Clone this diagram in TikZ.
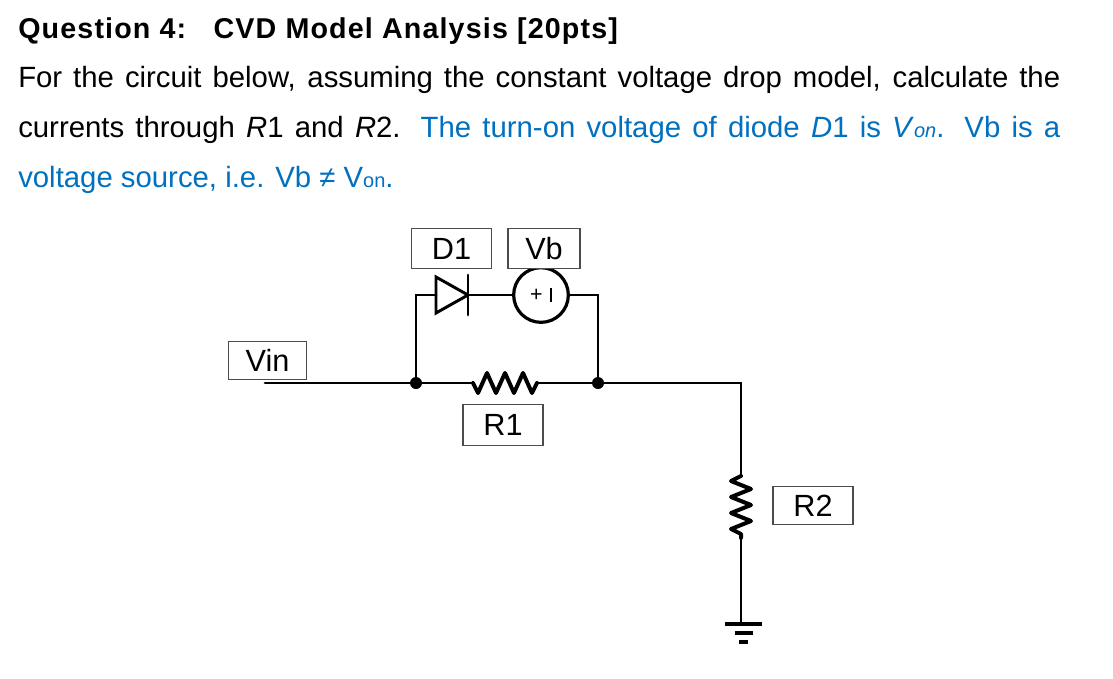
\documentclass[tikz,border=0pt]{standalone}
\usepackage{fontspec}
\setmainfont{Liberation Sans}
\definecolor{qblue}{RGB}{0,112,192}
\begin{document}
\begin{tikzpicture}[x=0.75pt,y=-0.75pt,
  lbl/.style={draw=black!70,line width=0.8pt,fill=white,inner sep=0pt,font=\fontsize{23}{24}\selectfont},
  wire/.style={line width=2.2pt,line cap=round},
  res/.style={line width=3pt,line join=round,line cap=round},
  dot/.style={circle,fill=black,inner sep=0pt,minimum size=9pt}]
\useasboundingbox (0,0) rectangle (1113,678);
\node[anchor=base west,inner sep=0pt,font=\fontsize{21.5}{24}\selectfont\bfseries\addfontfeatures{LetterSpace=4}] (title) at (18,38) {Question 4:\ \ \ CVD Model Analysis [20pts]};
\node[anchor=north west,inner sep=0pt,text width=781.5pt,align=justify,font=\fontsize{22}{37.5}\selectfont] (txt) at (18,66)
{For the circuit below, assuming the constant voltage drop model, calculate the\linebreak
currents through \textit{R}1 and \textit{R}2. \textcolor{qblue}{The turn-on voltage of diode \textit{D}1 is \textit{V}{\fontsize{15}{15}\selectfont\textit{on}}. Vb is a}\linebreak
\textcolor{qblue}{voltage source, i.e. Vb ≠ V{\fontsize{15}{15}\selectfont on}.}};
% nodes
\coordinate (vinS) at (265,383);
\node[dot] (j1) at (416,383) {};
\node[dot] (j2) at (598,383) {};
\coordinate (rc) at (741,383);
\coordinate (tl) at (416,295);
\coordinate (tr) at (598,295);
\coordinate (da) at (436,295);
\coordinate (dk) at (468,295);
\node[circle,draw,line width=2.4pt,minimum size=41pt,inner sep=0pt,font=\fontsize{16}{16}\selectfont] (vb) at (541,295) {+\,\,\rule{1.5pt}{10pt}};
\coordinate (r1a) at (473,383);
\coordinate (r1b) at (537,383);
\coordinate (r2a) at (741,476);
\coordinate (r2b) at (741,538);
\coordinate (gnd) at (741,624);
% labels
\node[lbl,minimum width=59pt,minimum height=28pt] (vin) at (267.5,360.5) {Vin};
\node[lbl,minimum width=60pt,minimum height=30pt] (d1l) at (451.5,248.5) {D1};
\node[lbl,minimum width=54pt,minimum height=30pt] (vbl) at (544,248.5) {Vb};
\node[lbl,minimum width=60pt,minimum height=31pt] (r1l) at (503,425) {R1};
\node[lbl,minimum width=60pt,minimum height=29pt] (r2l) at (813,505.5) {R2};
% wires
\draw[wire] (vinS) -- (j1) -- (r1a);
\draw[res] (r1a) -- ++(5,10) -- ++(9,-20) -- ++(9,20) -- ++(9,-20) -- ++(9,20) -- ++(9,-20) -- ++(9,20) -- (r1b);
\draw[wire] (r1b) -- (j2) -- (rc) -- (r2a);
\draw[res] (r2a) -- ++(-10,5) -- ++(20,8) -- ++(-20,8) -- ++(20,8) -- ++(-20,8) -- ++(20,8) -- ++(-20,8) -- ++(10,5) -- (r2b);
\draw[wire] (r2b) -- (gnd);
\draw[line width=3pt] (725,624) -- (762,624) (735,633) -- (753,633) (739,642) -- (748,642);
\draw[wire] (j1) -- (tl) -- (da);
\draw[wire,line join=miter] (da) -- (436,277) -- (dk) -- (436,313) -- cycle;
\draw[wire] (468,275) -- (468,315);
\draw[wire] (dk) -- (vb.west);
\draw[wire] (vb.east) -- (tr) -- (j2);
\end{tikzpicture}
\end{document}
